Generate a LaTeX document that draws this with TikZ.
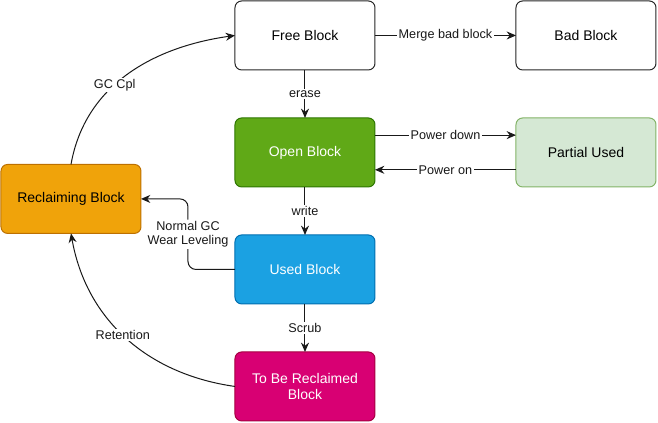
\documentclass[tikz,border=0pt]{standalone}
\usepackage{fontspec}
\setmainfont{Liberation Sans}
\usepackage{xcolor}
\usetikzlibrary{positioning,arrows.meta}
\definecolor{opfill}{HTML}{60A917}
\definecolor{opline}{HTML}{2D7600}
\definecolor{pufill}{HTML}{D5E8D4}
\definecolor{puline}{HTML}{82B366}
\definecolor{rcfill}{HTML}{F0A30A}
\definecolor{rcline}{HTML}{BD7000}
\definecolor{usfill}{HTML}{1BA1E2}
\definecolor{usline}{HTML}{006EAF}
\definecolor{tbfill}{HTML}{D80073}
\definecolor{tbline}{HTML}{A50040}
\begin{document}
\begin{tikzpicture}[
  node distance=36pt and 105.75pt,
  blk/.style={draw, rounded corners=5pt, align=center, font=\fontsize{10.5}{12.5}\selectfont,
              minimum width=105pt, minimum height=51.75pt, line width=0.75pt, outer sep=0pt},
  plain/.style={blk, draw=black!85, fill=white},
  open/.style={blk, draw=opline, fill=opfill, text=white},
  part/.style={blk, draw=puline, fill=pufill},
  recl/.style={blk, draw=rcline, fill=rcfill},
  used/.style={blk, draw=usline, fill=usfill, text=white},
  tobe/.style={blk, draw=tbline, fill=tbfill, text=white},
  lbl/.style={fill=white, font=\fontsize{9.5}{11}\selectfont, inner sep=1pt, align=center},
  arr/.style={-{Stealth[length=7pt,width=6pt]}, line width=0.75pt, black!90}
]
\useasboundingbox (-228.75pt,26.6pt) rectangle (264.75pt,-290.6pt);
\node[plain] (free) {Free Block};
\node[plain, right=of free] (bad) {Bad Block};
\node[open, below=of free] (openb) {Open Block};
\node[part, right=of openb] (partial) {Partial Used};
\node[used, below=of openb] (usedb) {Used Block};
\node[tobe, below=of usedb] (tobeb) {To Be Reclaimed\\Block};
\node[recl] (recl) at (-175.5pt,-122.6pt) {Reclaiming Block};
% straight edges
\foreach \a/\b/\t in {free/openb/erase, openb/usedb/write, usedb/tobeb/Scrub}
  \draw[arr] (\a) -- node[lbl] {\t} (\b);
\draw[arr] (free) -- node[lbl] {Merge bad block} (bad);
\draw[arr] ([yshift=13pt]openb.east) -- node[lbl] {Power down} ([yshift=13pt]partial.west);
\draw[arr] ([yshift=-13pt]partial.west) -- node[lbl] {Power on} ([yshift=-13pt]openb.east);
% back to reclaiming
\draw[arr, rounded corners=6pt] (usedb.west) -- ++(-35.25pt,0) |- node[lbl, pos=0.25] {Normal GC\\Wear Leveling} (recl.east);
\draw[arr] (tobeb.west) to[out=172, in=-80] node[lbl, pos=0.52] {Retention} (recl.south);
\draw[arr] (recl.north) to[out=80, in=188] node[lbl, pos=0.42] {GC Cpl} (free.west);
\end{tikzpicture}
\end{document}
